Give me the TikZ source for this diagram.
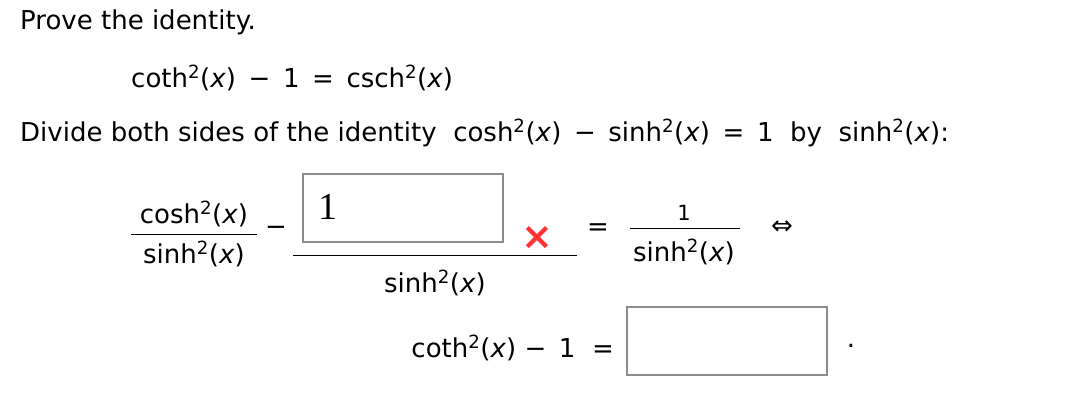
\documentclass[tikz,border=0pt]{standalone}
\usepackage{fontspec}
\setmainfont{DejaVu Sans}
\newfontfamily\serifone{Liberation Serif}
\begin{document}
\begin{tikzpicture}[x=1pt,y=-1pt,
  txt/.style={inner sep=0pt,font=\fontsize{26}{30}\selectfont},
  sm/.style={inner sep=0pt,font=\fontsize{21}{24}\selectfont},
  ansbox/.style={draw=black!45,line width=1.2pt,inner sep=0pt}]
\useasboundingbox (0,0) rectangle (1081,405);
\newcommand{\sq}{\textsuperscript{2}}
\newcommand{\xx}{(\textit{x})}
\node[txt,anchor=west] (t1) at (20,22) {Prove the identity.};
\node[txt,anchor=west] (t2) at (131,78) {coth\sq\xx\ \,−\, 1 \,=\, csch\sq\xx};
\node[txt,anchor=west] (t3) at (20,133) {Divide both sides of the identity \ cosh\sq\xx\ \,−\, sinh\sq\xx\ \,=\, 1 \ by \ sinh\sq\xx:};
\node[txt] (n1) at (194,214) {cosh\sq\xx};
\node[txt] (d1) at (194,254) {sinh\sq\xx};
\draw (131,234) -- (257,234);
\node[txt] (m1) at (276,231) {−};
\node[ansbox,minimum width=200pt,minimum height=68pt] (b1) at (403,208) {};
\node[inner sep=0pt,font=\serifone\fontsize{38}{40}\selectfont] (one) at (328,207) {1};
\node[inner sep=0pt,text=red!80!white,font=\fontsize{38}{38}\selectfont\bfseries] (x) at (537,238) {×};
\draw (293,255) -- (577,255);
\node[txt] (d2) at (435,283) {sinh\sq\xx};
\node[txt] (e1) at (598,230) {=};
\node[sm] (n3) at (684,213) {1};
\draw (630,228) -- (740,228);
\node[txt] (d3) at (684,252) {sinh\sq\xx};
\node[txt] (iff) at (782,228) {⇔};
\node[txt,anchor=east] (t4) at (614,348) {coth\sq\xx\ −\, 1 \ =};
\node[ansbox,minimum width=200pt,minimum height=68pt] (b2) at (727,341) {};
\node[txt] (dot) at (851,346) {.};
\end{tikzpicture}
\end{document}
